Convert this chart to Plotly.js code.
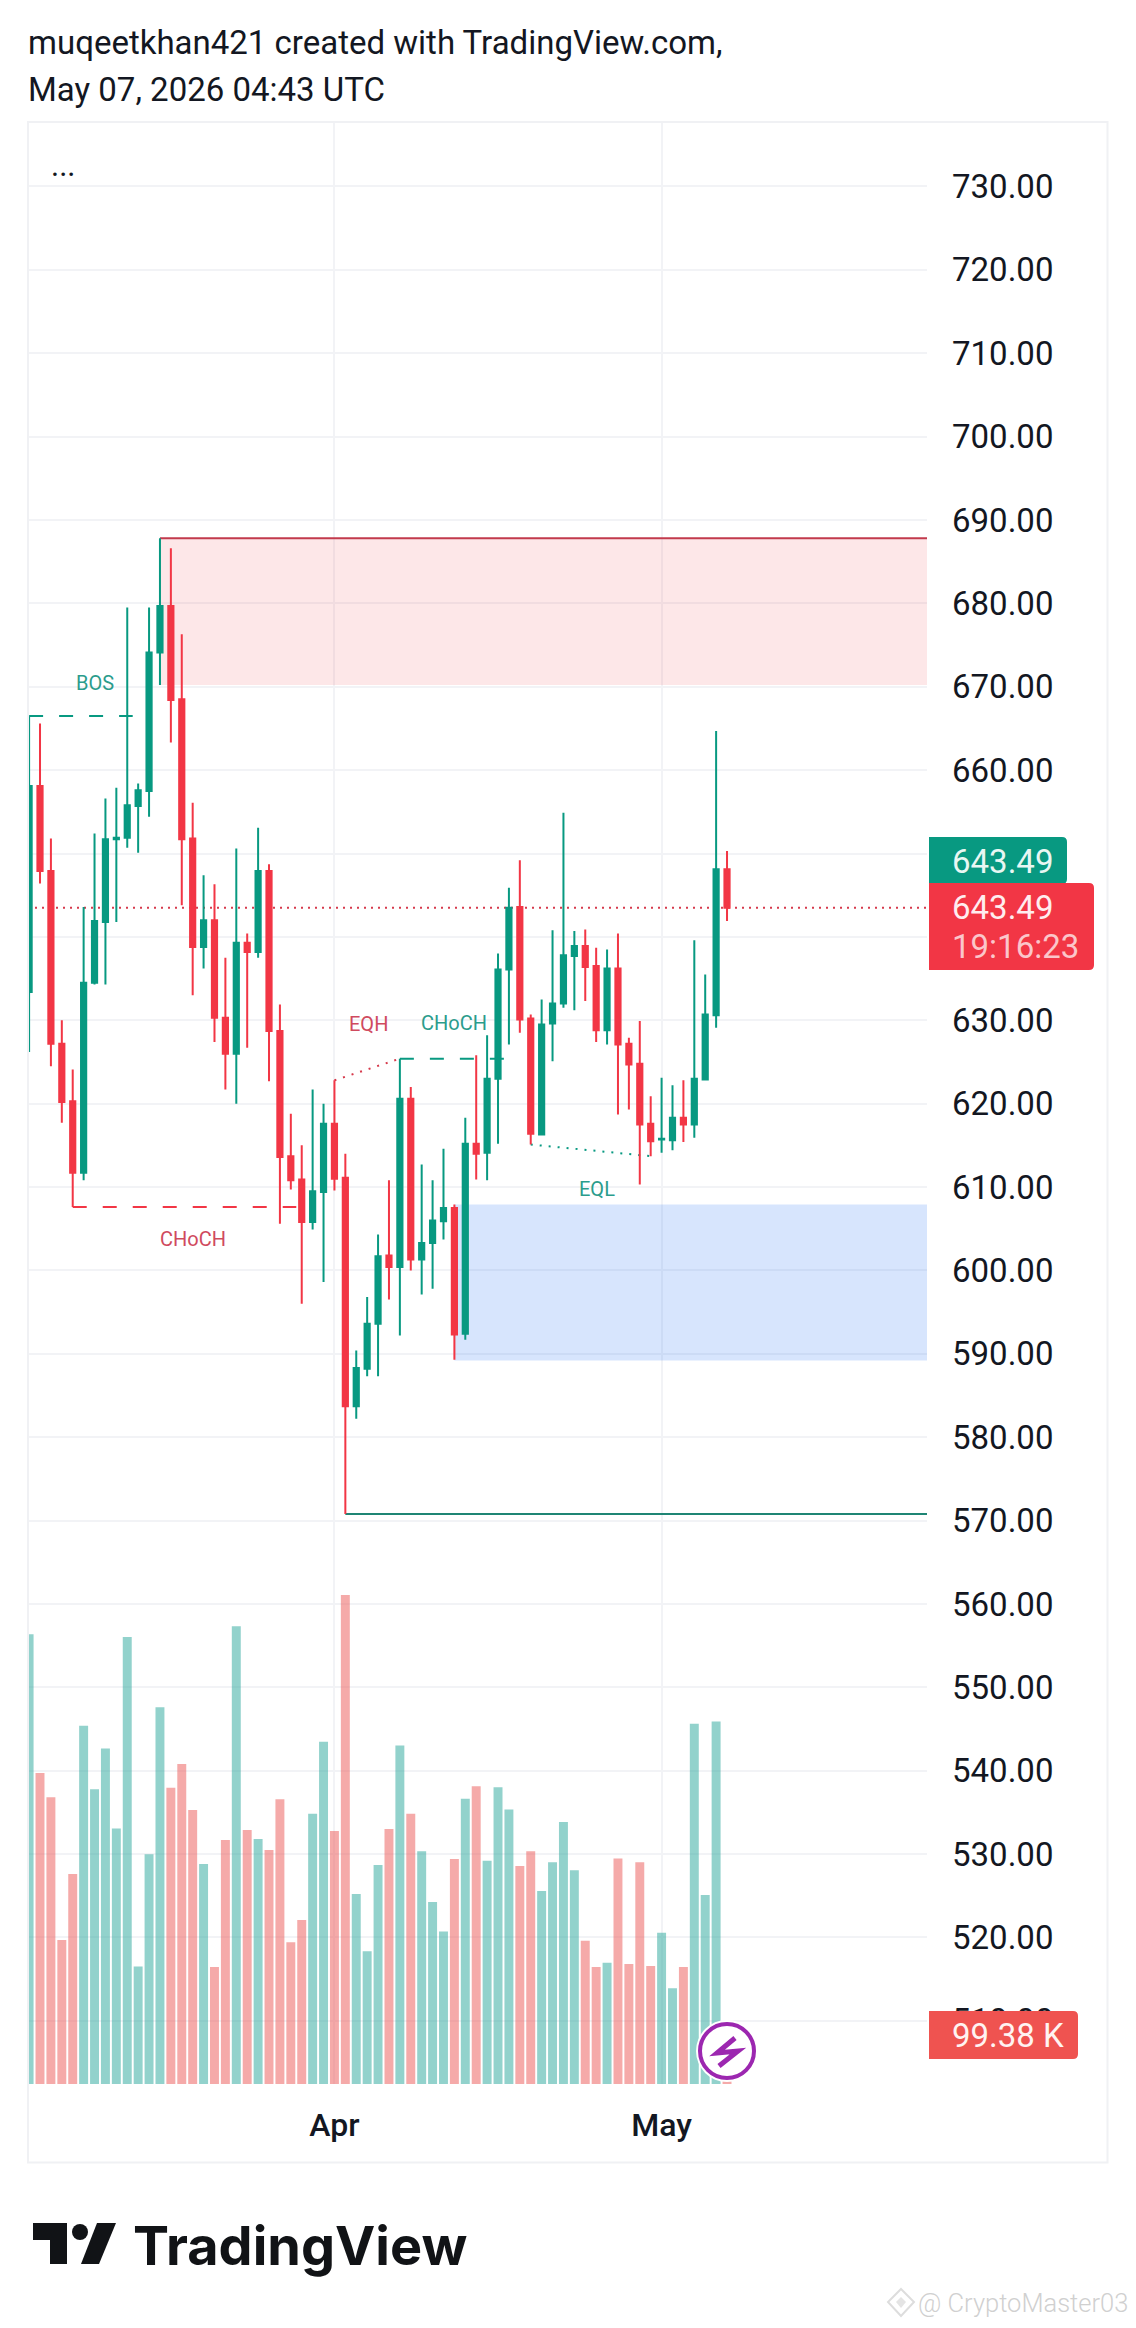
<!DOCTYPE html>
<html><head><meta charset="utf-8">
<script src="https://cdn.plot.ly/plotly-3.0.1.min.js"></script>
<style>html,body{margin:0;padding:0;background:#fff}#chart{width:1136px;height:2328px}</style>
</head><body><div id="chart"></div>
<script>
var dates=["2026-03-04","2026-03-05","2026-03-06","2026-03-07","2026-03-08","2026-03-09","2026-03-10","2026-03-11","2026-03-12","2026-03-13","2026-03-14","2026-03-15","2026-03-16","2026-03-17","2026-03-18","2026-03-19","2026-03-20","2026-03-21","2026-03-22","2026-03-23","2026-03-24","2026-03-25","2026-03-26","2026-03-27","2026-03-28","2026-03-29","2026-03-30","2026-03-31","2026-04-01","2026-04-02","2026-04-03","2026-04-04","2026-04-05","2026-04-06","2026-04-07","2026-04-08","2026-04-09","2026-04-10","2026-04-11","2026-04-12","2026-04-13","2026-04-14","2026-04-15","2026-04-16","2026-04-17","2026-04-18","2026-04-19","2026-04-20","2026-04-21","2026-04-22","2026-04-23","2026-04-24","2026-04-25","2026-04-26","2026-04-27","2026-04-28","2026-04-29","2026-04-30","2026-05-01","2026-05-02","2026-05-03","2026-05-04","2026-05-05","2026-05-06","2026-05-07"];
var openP=[633.4,658.1,647.9,627.2,620.3,611.7,634.5,641.8,651.7,651.9,655.7,657.5,674.1,679.7,668.5,651.8,638.8,642,630.3,626,639.3,638.2,647.9,628.7,613.7,610.9,605.8,609.4,617.6,611.1,583.7,588.2,593.6,601.8,600.4,620.6,601.3,603.3,605.9,607.5,592.4,615.2,614.1,623,636.1,643.6,630.2,616.3,629.6,632,637.7,638.9,636.5,628.8,636.2,627.2,624.8,617.6,615.7,615.6,618.3,617.5,622.9,630.6,648.1];
var closeP=[658.1,647.9,627.2,620.2,611.7,634.5,641.9,651.7,651.9,655.8,657.6,674.1,679.7,668.4,651.7,638.8,642,630.3,626,639.3,638.2,647.9,628.7,613.6,610.8,605.8,609.5,617.6,611,583.7,588.3,593.6,601.7,600.4,620.6,601.3,603.3,606,607.5,592.3,615.2,614,623,636.1,643.5,630.1,616.4,629.5,632,637.8,638.9,636.4,628.8,636.2,627.1,624.7,617.5,615.5,615.8,618.3,617.5,623,630.7,648.1,643.5];
var highP=[666.5,665.6,651.8,630,624.1,643.6,652.4,656.6,657.9,679.5,658.4,679.5,687.8,686.6,676.3,656.1,647.4,646.3,637.5,650.6,640.4,653.1,648.7,631.9,618.8,615,621.7,620,622.8,614,590.4,596.8,604.3,610.8,625.4,622,612.7,610.8,614.6,607.9,618.3,625.8,628.2,638,645.9,649.2,630.7,632.5,640.8,654.9,640.7,640.9,638.7,638.5,640.4,627.9,629.9,620.9,623.1,622.2,622.8,639.6,635.5,664.7,650.3];
var lowP=[626.2,646.4,624.5,617.7,607.6,610.8,634.3,634.3,641.8,650.7,650.1,654.4,670.2,663.3,643.8,633,636.2,627.4,621.7,620,626.7,637.5,622.7,605.6,609.7,596,604.9,598.6,609.6,570.8,582.2,587.3,587.3,596.5,592.2,600,597.1,597.8,603.7,589.3,591.7,610.9,610.8,615.2,627.1,628.5,615.1,616.2,625.1,631.5,631.2,632.3,627.4,627.1,618.7,619.3,610.3,613.7,614.1,614.4,615.4,615.9,622.9,629.1,641.9];
var volumeK=[949,656,605,304,443,756,622,708,539,943,248,485,795,625,675,578,464,247,515,966,536,517,494,601,299,346,570,722,534,1032,401,280,462,538,714,570,491,384,322,475,602,628,471,626,579,460,491,407,468,553,451,302,247,256,476,253,468,249,319,202,247,760,399,765,99.38];
var priceTicks=[510,520,530,540,550,560,570,580,590,600,610,620,630,640,650,660,670,680,690,700,710,720,730];
var priceLabels=["510.00","520.00","530.00","540.00","550.00","560.00","570.00","580.00","590.00","600.00","610.00","620.00","630.00","","","660.00","670.00","680.00","690.00","700.00","710.00","720.00","730.00"];
var monthTicks=["2026-04-01","2026-05-01"];
var monthLabels=["Apr","May"];
var lastPrice=643.49;
var supplyZone=[670.2,687.8], demandZone=[589.2,607.9], weakLow=570.8;
var bos=[666.5], chochDown=[607.6], chochUp=[625.4];

var GREEN="#089981",RED="#F23645",INK="#131722";
var L=28,R=927,T=122,B=2084,W=1136,H=2328;
var DAY=86400000,t0=Date.UTC(2026,2,4),SP=10.905,X0=29.1;
function iso(ms){return new Date(ms).toISOString().slice(0,19).replace("T"," ");}
var xr=[iso(t0+(L-X0)/SP*DAY),iso(t0+(R-X0)/SP*DAY)];
var ppu=8.338;
var yr=[690-(B-520)/ppu,690+(520-T)/ppu];
var kpx=2.11;
function px(x){return (x-L)/(R-L);} function py(y){return (B-y)/(B-T);}
function lab(text,x,y,size,color,anchor,extra){
  return {text:text,xref:"paper",yref:"paper",x:px(x),y:py(y),xanchor:anchor||"left",yanchor:"middle",showarrow:false,borderpad:0,
    font:Object.assign({family:"Roboto",size:size,color:color},extra||{})};
}
function pxPath(pts,close){return pts.map(function(p,i){return (i?"L":"M")+px(p[0])+" "+py(p[1]);}).join(" ")+(close?" Z":"");}
function round(x0,y0,x1,y1,r){
  return "M"+px(x0)+" "+py(y0)+" L"+px(x1-r)+" "+py(y0)+" Q"+px(x1)+" "+py(y0)+" "+px(x1)+" "+py(y0+r)+
    " L"+px(x1)+" "+py(y1-r)+" Q"+px(x1)+" "+py(y1)+" "+px(x1-r)+" "+py(y1)+" L"+px(x0)+" "+py(y1)+" Z";
}
function line(x0,y0,x1,y1,color,dash,w){return {type:"line",layer:"between",xref:"x",yref:"y",x0:x0,y0:y0,x1:x1,y1:y1,line:{color:color,width:w||2,dash:dash||"solid"}};}
function zone(x0,x1,yz,fill){return {type:"rect",layer:"between",xref:"x",yref:"y",x0:x0,x1:x1,y0:yz[0],y1:yz[1],fillcolor:fill,line:{width:0}};}
var rightEdge=xr[1];
var LOGO="#111316";
var shapes=[
  zone(dates[12],rightEdge,supplyZone,"rgba(242,54,69,0.12)"),
  zone(dates[39],rightEdge,demandZone,"rgba(41,115,245,0.19)"),
  line(dates[12],supplyZone[1],rightEdge,supplyZone[1],"#C23A4C"),
  line(dates[29],weakLow,rightEdge,weakLow,"#1F8574"),
  line(xr[0],lastPrice,rightEdge,lastPrice,"#D63A4C","2px,5px"),
  line(dates[0],bos[0],"2026-03-13 12:00",bos[0],GREEN,"14px,16px"),
  line(dates[4],chochDown[0],"2026-03-28 12:00",chochDown[0],RED,"14px,16px"),
  line(dates[34],chochUp[0],"2026-04-17",chochUp[0],GREEN,"14px,16px"),
  line(dates[28],highP[28],dates[34],highP[34],"#D63A4C","2px,7px"),
  line(dates[46],lowP[46],dates[57],lowP[57],GREEN,"2px,7px"),
  {type:"rect",layer:"above",xref:"paper",yref:"paper",x0:px(28),x1:px(1107.5),y0:py(122),y1:py(2162.5),line:{color:"#F0F1F4",width:2}},
  {type:"path",layer:"above",xref:"paper",yref:"paper",path:round(929,837,1067,884,5),fillcolor:GREEN,line:{width:0}},
  {type:"path",layer:"above",xref:"paper",yref:"paper",path:round(929,883,1094,970,5),fillcolor:RED,line:{width:0}},
  {type:"path",layer:"above",xref:"paper",yref:"paper",path:round(929,2011,1078,2059,5),fillcolor:"#EF5350",line:{width:0}},
  {type:"circle",layer:"above",xref:"paper",yref:"paper",x0:px(696),x1:px(758),y0:py(2082),y1:py(2020),fillcolor:"#fff",line:{width:0}},
  {type:"circle",layer:"above",xref:"paper",yref:"paper",x0:px(700),x1:px(754),y0:py(2078),y1:py(2024),fillcolor:"#fff",line:{color:"#9C27B0",width:4}},
  {type:"path",layer:"above",xref:"paper",yref:"paper",path:pxPath([[735,2038],[717,2053],[738,2051],[719,2066]]),line:{color:"#9C27B0",width:5}},
  {type:"path",layer:"above",xref:"paper",yref:"paper",path:pxPath([[33,2223],[67,2223],[67,2264],[50,2264],[50,2240],[33,2240]],true),fillcolor:LOGO,line:{width:0}},
  {type:"circle",layer:"above",xref:"paper",yref:"paper",x0:px(72),x1:px(88),y0:py(2240),y1:py(2224),fillcolor:LOGO,line:{width:0}},
  {type:"path",layer:"above",xref:"paper",yref:"paper",path:pxPath([[97,2223],[116,2223],[99,2264],[81,2264]],true),fillcolor:LOGO,line:{width:0}},
  {type:"path",layer:"above",xref:"paper",yref:"paper",path:pxPath([[901,2289],[914,2302],[901,2316],[888,2302]],true),fillcolor:"rgba(0,0,0,0)",line:{color:"#DDDDDD",width:2}},
  {type:"path",layer:"above",xref:"paper",yref:"paper",path:pxPath([[901,2297],[906,2302],[901,2308],[896,2302]],true),fillcolor:"#E4E4E4",line:{width:0}}
];
var annotations=[
  lab("muqeetkhan421 created with TradingView.com,",27,43,33,"#131722"),
  lab("May 07, 2026 04:43 UTC",27,89,33,"#131722"),
  lab("...",50,166,31,"#131722"),
  lab("BOS",95,683,20,"#2B9C8C","center"),
  lab("CHoCH",193,1239,20,"#D04A5E","center"),
  lab("EQH",368,1024,20,"#D04A5E","center"),
  lab("CHoCH",454,1023,20,"#2B9C8C","center"),
  lab("EQL",597,1189,20,"#2B9C8C","center"),
  lab("643.49",951,861,33,"#E8F7F3"),
  lab("643.49",951,907,33,"#FFEDEF"),
  lab("19:16:23",951,947,33,"rgba(255,255,255,0.72)"),
  lab("99.38 K",951,2035,33,"#FFF3F2"),
  lab("TradingView",132,2245,54,LOGO,"left",{family:"Inter",weight:700}),
  lab("@ CryptoMaster03",917,2303,25.5,"#D0D0D0","left",{weight:300})
];
var volColors=closeP.map(function(c,i){return c>=openP[i]?"rgba(38,166,154,0.5)":"rgba(236,86,84,0.5)";});
var data=[
 {type:"bar",x:dates,y:volumeK,yaxis:"y2",marker:{color:volColors,line:{width:0}},width:0.82*DAY,hoverinfo:"skip",showlegend:false},
 {type:"candlestick",x:dates,open:openP,high:highP,low:lowP,close:closeP,whiskerwidth:0,
  increasing:{line:{color:GREEN,width:2},fillcolor:GREEN},decreasing:{line:{color:RED,width:2},fillcolor:RED},hoverinfo:"skip",showlegend:false}
];
var layout={width:W,height:H,autosize:false,paper_bgcolor:"#fff",plot_bgcolor:"#fff",showlegend:false,
 margin:{l:L,r:W-R,t:T,b:H-B,pad:0},boxgap:0.32,
 font:{family:"Roboto",color:INK},
 xaxis:{type:"date",range:xr,tickmode:"array",tickvals:monthTicks,ticktext:monthLabels,showgrid:true,gridcolor:"#F2F3F6",gridwidth:2,zeroline:false,showline:false,ticks:"",
   rangeslider:{visible:false},ticklabelstandoff:19,tickfont:{family:"Roboto",size:32,color:INK,weight:500}},
 yaxis:{range:yr,side:"right",tickmode:"array",tickvals:priceTicks,ticktext:priceLabels,showgrid:true,gridcolor:"#F2F3F6",gridwidth:2,zeroline:false,showline:false,ticks:"",
   ticklabelstandoff:24,tickfont:{family:"Roboto",size:33,color:INK}},
 yaxis2:{overlaying:"y",side:"left",range:[0,(B-T)*kpx],showgrid:false,zeroline:false,showticklabels:false,ticks:"",showline:false},
 shapes:shapes,annotations:annotations};
Plotly.newPlot("chart",data,layout,{staticPlot:true,displayModeBar:false});
</script></body></html>
